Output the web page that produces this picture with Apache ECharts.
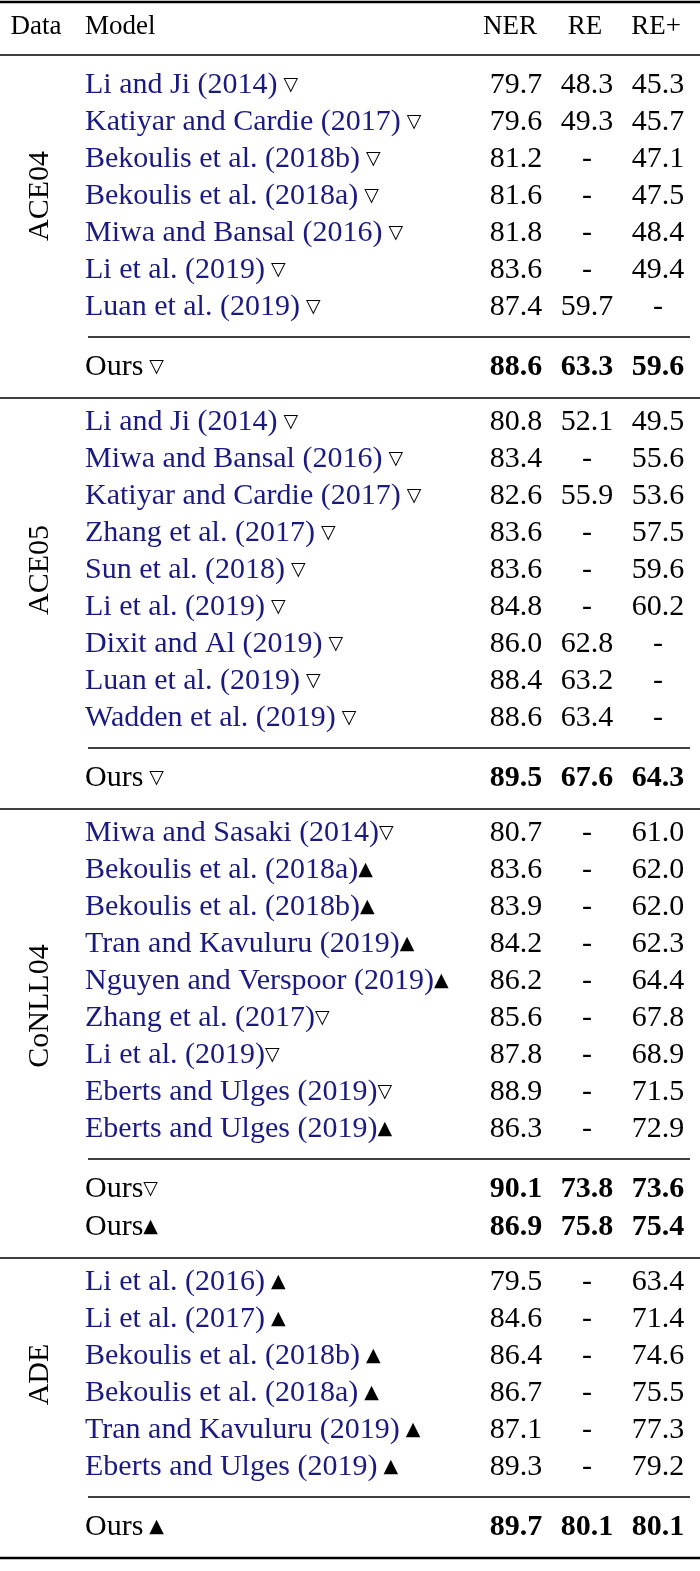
<!DOCTYPE html><html><head><meta charset="utf-8">
<script src="https://cdn.jsdelivr.net/npm/echarts@6/dist/echarts.min.js"></script>
<style>html,body{margin:0;padding:0;background:#fff}#c{width:700px;height:1571px}</style></head><body><div id="c"></div>
<script>
const headers = ["Data","Model","NER","RE","RE+"];
const sections = ["ACE04","ACE05","CoNLL04","ADE"];
const models = [
 [["Li and Ji","2014"," ▽"],["Katiyar and Cardie","2017"," ▽"],["Bekoulis et al.","2018b"," ▽"],["Bekoulis et al.","2018a"," ▽"],["Miwa and Bansal","2016"," ▽"],["Li et al.","2019"," ▽"],["Luan et al.","2019"," ▽"]],
 [["Li and Ji","2014"," ▽"],["Miwa and Bansal","2016"," ▽"],["Katiyar and Cardie","2017"," ▽"],["Zhang et al.","2017"," ▽"],["Sun et al.","2018"," ▽"],["Li et al.","2019"," ▽"],["Dixit and Al","2019"," ▽"],["Luan et al.","2019"," ▽"],["Wadden et al.","2019"," ▽"]],
 [["Miwa and Sasaki","2014","▽"],["Bekoulis et al.","2018a","▲"],["Bekoulis et al.","2018b","▲"],["Tran and Kavuluru","2019","▲"],["Nguyen and Verspoor","2019","▲"],["Zhang et al.","2017","▽"],["Li et al.","2019","▽"],["Eberts and Ulges","2019","▽"],["Eberts and Ulges","2019","▲"]],
 [["Li et al.","2016"," ▲"],["Li et al.","2017"," ▲"],["Bekoulis et al.","2018b"," ▲"],["Bekoulis et al.","2018a"," ▲"],["Tran and Kavuluru","2019"," ▲"],["Eberts and Ulges","2019"," ▲"]]
];
const ner = [[79.7,79.6,81.2,81.6,81.8,83.6,87.4],[80.8,83.4,82.6,83.6,83.6,84.8,86.0,88.4,88.6],[80.7,83.6,83.9,84.2,86.2,85.6,87.8,88.9,86.3],[79.5,84.6,86.4,86.7,87.1,89.3]];
const re = [["48.3","49.3","-","-","-","-","59.7"],["52.1","-","55.9","-","-","-","62.8","63.2","63.4"],["-","-","-","-","-","-","-","-","-"],["-","-","-","-","-","-"]];
const rep = [["45.3","45.7","47.1","47.5","48.4","49.4","-"],["49.5","55.6","53.6","57.5","59.6","60.2","-","-","-"],["61.0","62.0","62.0","62.3","64.4","67.8","68.9","71.5","72.9"],["63.4","71.4","74.6","75.5","77.3","79.2"]];
const ours = [[["Ours"," ▽","88.6","63.3","59.6"]],[["Ours"," ▽","89.5","67.6","64.3"]],[["Ours","▽","90.1","73.8","73.6"],["Ours","▲","86.9","75.8","75.4"]],[["Ours"," ▲","89.7","80.1","80.1"]]];

const FONT='"Liberation Serif","DejaVu Serif",serif', FS=30, BLUE='#1a1a80';
const colX=[516,587,658], modelX=85;
const g=[];
function txt(t,x,y,o){g.push(Object.assign({type:'text',x:x,y:y,style:{text:t,font:(o&&o.bold?'bold ':'')+FS+'px '+FONT,fill:'#000',align:'center',verticalAlign:'middle'}},o&&o.extra||{}));}
function line(y,x1,x2,w){g.push({type:'line',shape:{x1:x1,y1:y,x2:x2,y2:y},style:{stroke:'#000',lineWidth:w}});}
line(2,0,700,2.5);
txt(headers[0],36,27,{extra:{style:{text:headers[0],font:'27px '+FONT,fill:'#000',align:'center',verticalAlign:'middle'}}});
g.push({type:'text',x:modelX,y:27,style:{text:headers[1],font:'27px '+FONT,fill:'#000',align:'left',verticalAlign:'middle'}});
headers.slice(2).forEach((h,i)=>g.push({type:'text',x:[510,585,656][i],y:27,style:{text:h,font:'27px '+FONT,fill:'#000',align:'center',verticalAlign:'middle'}}));
line(55,0,700,1.5);
let y=85;
sections.forEach((s,si)=>{
  const y0=y;
  models[si].forEach((m,ri)=>{
    g.push({type:'text',x:modelX,y:y,style:{text:'{b|'+m[0]+' ('+m[1]+')}{k|'+m[2]+'}',font:FS+'px '+FONT,align:'left',verticalAlign:'middle',rich:{b:{fill:BLUE,font:FS+'px '+FONT},k:{fill:'#000',font:'19px "DejaVu Sans"'}}}});
    txt(ner[si][ri].toFixed(1),colX[0],y);
    txt(re[si][ri],colX[1],y);
    txt(rep[si][ri],colX[2],y);
    if(ri<models[si].length-1) y+=37;
  });
  const yl=y;
  txt(s,40,(y0+yl)/2+(si==2?25:0),{extra:{rotation:Math.PI/2}});
  line(yl+30,88,690,1.3);
  y=yl+60;
  ours[si].forEach((o,oi)=>{
    if(oi>0) y+=38;
    g.push({type:'text',x:modelX,y:y,style:{text:'{b|'+o[0]+'}{k|'+o[1]+'}',font:FS+'px '+FONT,align:'left',verticalAlign:'middle',rich:{b:{fill:'#000',font:FS+'px '+FONT},k:{fill:'#000',font:'19px "DejaVu Sans"'}}}});
    o.slice(2).forEach((v,i)=>txt(v,colX[i],y,{bold:true}));
  });
  y+=31;
  line(y,0,700,si==3?2.5:1.5);
  y+=24;
});
const chart=echarts.init(document.getElementById('c'));
chart.setOption({animation:false,graphic:g});
</script></body></html>
